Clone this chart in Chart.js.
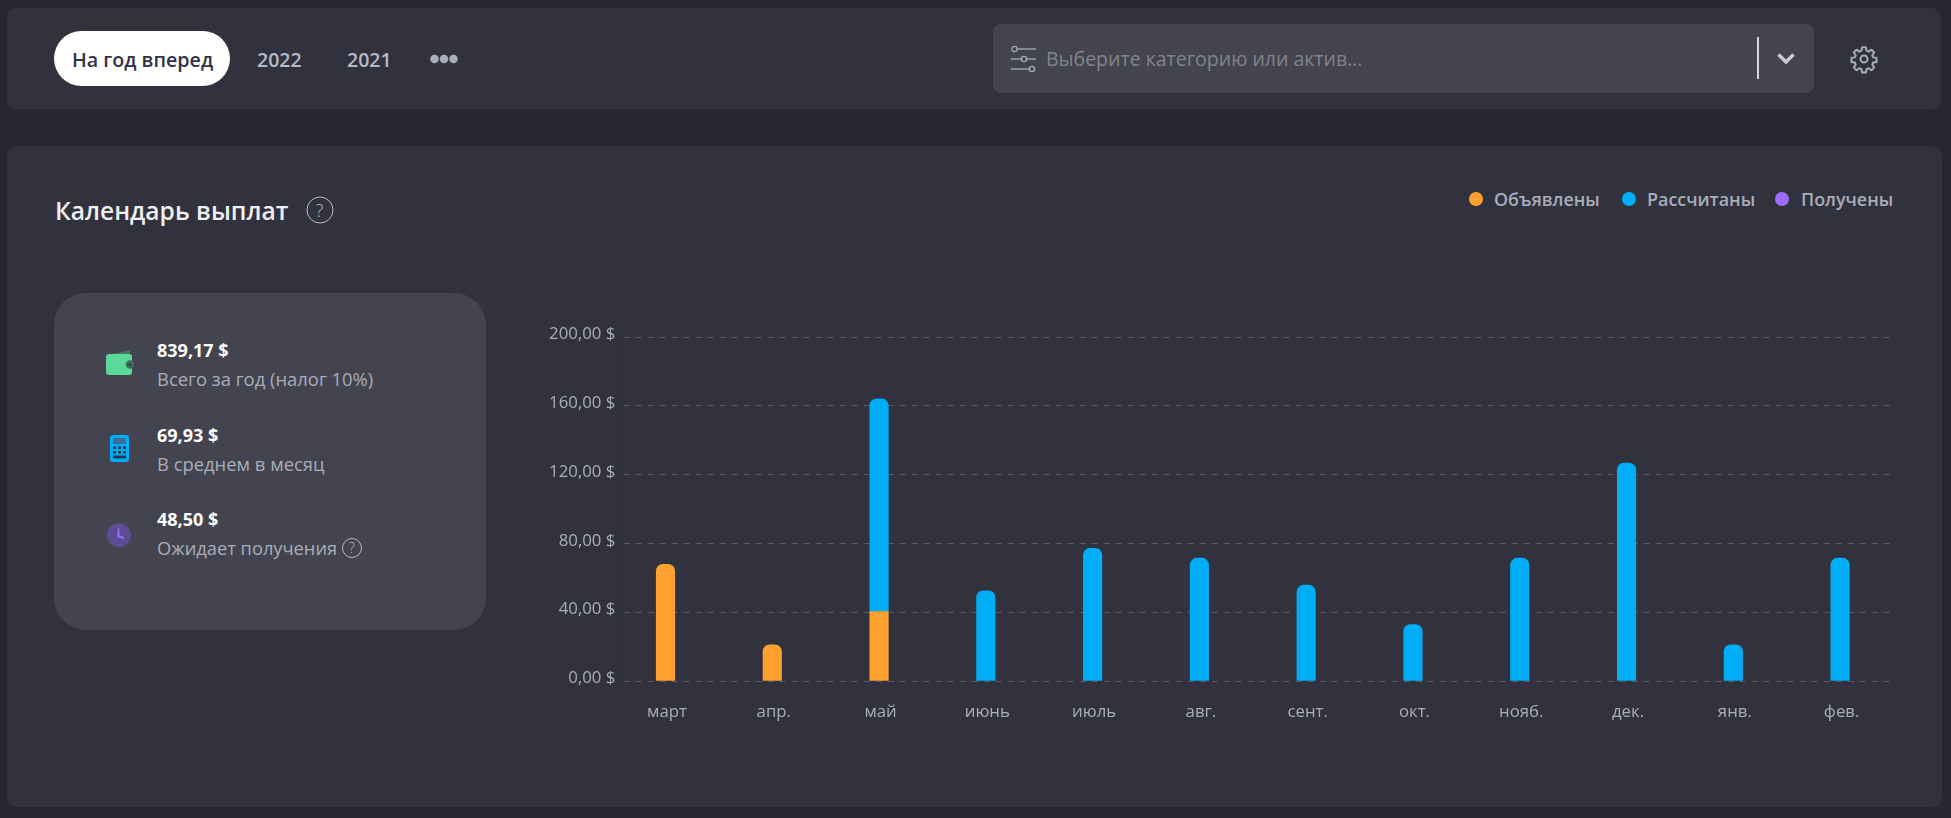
<!DOCTYPE html>
<html lang="ru">
<head>
<meta charset="utf-8">
<title>Календарь выплат</title>
<script src="https://cdn.jsdelivr.net/npm/chart.js@4"></script>
<style>
html, body { margin: 0; padding: 0; width: 1951px; height: 818px; overflow: hidden; background: #282731; font-family: "Open Sans", "Noto Sans", sans-serif; }
.panel { position: absolute; background: #32323e; border-radius: 9px; }
.t { position: absolute; white-space: nowrap; line-height: 30px; transform: translateY(-50%); }
.help { position: absolute; box-sizing: border-box; border: 1px solid #b9bcc6; border-radius: 50%; color: #b9bcc6; text-align: center; font-weight: 300; transform: translate(-50%, -50%); }
svg { position: absolute; overflow: visible; }
#chartWrap { position: absolute; left: 540px; top: 318px; width: 1370px; height: 420px; }
.dot { position: absolute; width: 14px; height: 14px; border-radius: 50%; top: 192px; }
</style>
</head>
<body>
<div class="panel" style="left:7px;top:8px;width:1934px;height:101px"></div>
<div class="panel" style="left:7px;top:146px;width:1935px;height:661px"></div>

<!-- top bar -->
<div style="position:absolute;left:54px;top:31px;width:176px;height:55px;border-radius:28px;background:#fff"></div>
<div class="t" style="left:72px;top:60px;font-size:19.7px;font-weight:600;color:#32324a">На год вперед</div>
<div class="t" style="left:257px;top:60px;font-size:19.5px;font-weight:600;color:#b7bac8">2022</div>
<div class="t" style="left:347px;top:60px;font-size:19.5px;font-weight:600;color:#b7bac8">2021</div>
<svg style="left:430px;top:54px" width="28" height="10" fill="#a9adb9"><circle cx="4.5" cy="5" r="4.3"/><circle cx="14" cy="5" r="4.3"/><circle cx="23.5" cy="5" r="4.3"/></svg>

<div style="position:absolute;left:993px;top:24px;width:821px;height:69px;border-radius:8px;background:#434450"></div>
<svg style="left:1011px;top:46px" width="26" height="26" fill="none" stroke="#a9adb9" stroke-width="1.3">
  <circle cx="3.5" cy="3" r="2.6"/><path d="M6 3H25"/>
  <path d="M0 13H10"/><circle cx="13" cy="13" r="2.6"/><path d="M16 13H25"/>
  <path d="M0 23H18"/><circle cx="21" cy="23" r="2.6"/>
</svg>
<div class="t" style="left:1046px;top:59px;font-size:19.5px;color:#82838a">Выберите категорию или актив...</div>
<div style="position:absolute;left:1757px;top:37px;width:2px;height:42px;background:#d8d8dc"></div>
<svg style="left:1777px;top:53px" width="18" height="12" fill="none" stroke="#c9cad0" stroke-width="3.4"><path d="M1.5 1.5L9 9L16.5 1.5"/></svg>
<svg style="left:1850px;top:45px" width="28" height="28" viewBox="0 0 24 24" fill="none" stroke="#a9adb9" stroke-width="1.7" stroke-linejoin="round">
  <circle cx="12" cy="12" r="3"/>
  <path d="M10.3 2h3.4l.5 2.9 1.8.8 2.4-1.7 2.4 2.4-1.7 2.4.8 1.8 2.9.5v3.4l-2.9.5-.8 1.8 1.7 2.4-2.4 2.4-2.4-1.7-1.8.8-.5 2.9h-3.4l-.5-2.9-1.8-.8-2.4 1.7-2.4-2.4 1.7-2.4-.8-1.8-2.9-.5v-3.4l2.9-.5.8-1.8-1.7-2.4 2.4-2.4 2.4 1.7 1.8-.8z"/>
</svg>

<!-- title and legend -->
<div class="t" style="left:55px;top:211px;font-size:24.6px;font-weight:600;color:#f0f0f3">Календарь выплат</div>
<div class="help" style="left:319.5px;top:210px;width:27px;height:27px;font-size:18px;line-height:25px">?</div>
<div id="legend"></div>

<!-- summary card -->
<div style="position:absolute;left:54px;top:293px;width:432px;height:337px;border-radius:32px;background:#434450"></div>
<svg style="left:105px;top:350px" width="28" height="26">
  <path d="M4 5L25 0V6H4z" fill="#3f7d63"/>
  <rect x="1" y="4" width="26" height="21" rx="3" fill="#5cd89b"/>
  <circle cx="25" cy="14.5" r="4.2" fill="#3f6a5c"/><circle cx="25" cy="14.5" r="1.6" fill="#434450"/>
</svg>
<svg style="left:110px;top:435px" width="19" height="28">
  <rect x="0" y="0" width="19" height="27" rx="3" fill="#00aef8"/>
  <rect x="3" y="3" width="13" height="6" fill="#3c6f91"/>
  <g fill="#24384f">
    <rect x="3" y="11.5" width="3" height="2.6"/><rect x="8" y="11.5" width="3" height="2.6"/><rect x="13" y="11.5" width="3" height="2.6"/>
    <rect x="3" y="16" width="3" height="2.6"/><rect x="8" y="16" width="3" height="2.6"/><rect x="13" y="16" width="3" height="2.6"/>
    <rect x="3" y="20.5" width="13" height="3"/>
  </g>
</svg>
<svg style="left:107px;top:523px" width="24" height="24">
  <circle cx="12" cy="12" r="12" fill="#5d4b94"/>
  <path d="M11.5 5.5V13.5L17 15" fill="none" stroke="#9d6bff" stroke-width="2"/>
</svg>

<div class="t" style="left:157px;top:350px;font-size:18px;font-weight:700;color:#fff">839,17 $</div>
<div class="t" style="left:157px;top:379px;font-size:18.4px;color:#a9adb9">Всего за год (налог 10%)</div>
<div class="t" style="left:157px;top:435px;font-size:18px;font-weight:700;color:#fff">69,93 $</div>
<div class="t" style="left:157px;top:464px;font-size:18.4px;color:#a9adb9">В среднем в месяц</div>
<div class="t" style="left:157px;top:519px;font-size:18px;font-weight:700;color:#fff">48,50 $</div>
<div class="t" style="left:157px;top:548px;font-size:18.3px;color:#a9adb9">Ожидает получения</div>
<div class="help" style="left:352px;top:548px;width:20px;height:20px;font-size:14px;line-height:18px">?</div>

<div id="chartWrap"><canvas id="payoutChart" width="1370" height="420"></canvas></div>

<script>
const months = ['март', 'апр.', 'май', 'июнь', 'июль', 'авг.', 'сент.', 'окт.', 'нояб.', 'дек.', 'янв.', 'фев.'];
const announced = [67.9, 21, 40.4, null, null, null, null, null, null, null, null, null];
const calculated = [null, null, 123.6, 52.4, 77.2, 71.4, 55.7, 32.8, 71.4, 126.7, 21, 71.4];
const received = [null, null, null, null, null, null, null, null, null, null, null, null];
const tickValues = [0, 40, 80, 120, 160, 200];
const tickLabels = ['0,00 $', '40,00 $', '80,00 $', '120,00 $', '160,00 $', '200,00 $'];

const seriesNames = ['Объявлены', 'Рассчитаны', 'Получены'];
const seriesColors = ['#ffa02f', '#00aef8', '#9d6bff'];
const legendDots = [1469, 1622, 1775];
const legendText = [1494, 1647, 1801];

// legend sits in the panel header, far from the plot
const legend = document.getElementById('legend');
seriesNames.forEach(function (name, i) {
    legend.insertAdjacentHTML('beforeend',
        '<div class="dot" style="left:' + legendDots[i] + 'px;background:' + seriesColors[i] + '"></div>' +
        '<div class="t" style="left:' + legendText[i] + 'px;top:199px;font-size:17.9px;font-weight:600;color:#a9adb9">' + name + '</div>');
});

// top corners are round only on the last non-empty segment of a stack
function topRadius(ownIndex) {
    return function (ctx) {
        const i = ctx.dataIndex;
        const above = ownIndex === 0 ? calculated[i] + received[i] : received[i];
        return above > 0 ? 0 : 7;
    };
}

// hides the start of the grid lines, y labels are drawn later with z 1
const gridStart = {
    id: 'gridStart',
    beforeDatasetsDraw: function (chart) {
        const area = chart.chartArea;
        chart.ctx.fillStyle = '#32323e';
        chart.ctx.fillRect(area.left - 1, area.top - 2, 8, area.height + 4);
    }
};

new Chart(document.getElementById('payoutChart'), {
    type: 'bar',
    plugins: [gridStart],
    data: {
        labels: months,
        datasets: [
            { label: seriesNames[0], data: announced, backgroundColor: seriesColors[0], borderRadius: topRadius(0) },
            { label: seriesNames[1], data: calculated, backgroundColor: seriesColors[1], borderRadius: topRadius(1) },
            { label: seriesNames[2], data: received, backgroundColor: seriesColors[2] }
        ]
    },
    options: {
        responsive: false,
        animation: false,
        barThickness: 18.5,
        layout: { padding: { top: 19, right: 16.5, left: 0, bottom: 0 } },
        plugins: { legend: { display: false }, tooltip: { enabled: false } },
        scales: {
            x: {
                stacked: true,
                grid: { display: false },
                border: { display: false },
                ticks: { color: '#a9adb9', font: { family: '"Open Sans"', size: 16.8 }, labelOffset: 1.5, padding: 13.5, maxRotation: 0, autoSkip: false },
                afterFit: function (scale) { scale.height = 57; }
            },
            y: {
                stacked: true,
                min: 0,
                max: 200,
                afterBuildTicks: function (scale) { scale.ticks = tickValues.map(function (v) { return { value: v }; }); },
                grid: { color: '#575964', lineWidth: 1, drawTicks: false },
                border: { display: false, dash: [6, 6] },
                ticks: {
                    z: 1,
                    mirror: true,
                    crossAlign: 'far',
                    color: '#a9adb9',
                    font: { family: '"Open Sans"', size: 16.8 },
                    labelOffset: -2.5,
                    padding: -63,
                    callback: function (value, i) { return tickLabels[i]; }
                },
                afterFit: function (scale) { scale.width = 72.1; }
            }
        }
    }
});
</script>
</body>
</html>
